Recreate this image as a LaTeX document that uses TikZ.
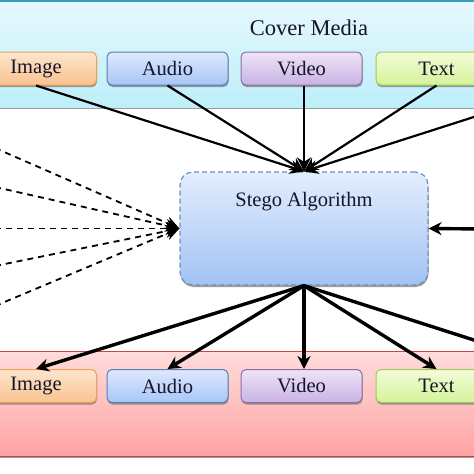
\documentclass[tikz,border=0pt]{standalone}
\usepackage{fontspec}
\setmainfont{Liberation Serif}
\usetikzlibrary{arrows.meta,shadows}
\definecolor{imgT}{HTML}{FDE6CF}\definecolor{imgB}{HTML}{F9C28E}\definecolor{imgD}{HTML}{F0A055}
\definecolor{audT}{HTML}{DDE9FD}\definecolor{audB}{HTML}{A8C6F6}\definecolor{audD}{HTML}{5B7FB0}
\definecolor{vidT}{HTML}{EEE4F7}\definecolor{vidB}{HTML}{C9B3E3}\definecolor{vidD}{HTML}{8A70A8}
\definecolor{txtT}{HTML}{F3FCD9}\definecolor{txtB}{HTML}{D5F29A}\definecolor{txtD}{HTML}{A0CC55}
\definecolor{stegT}{HTML}{E3EDFD}\definecolor{stegB}{HTML}{A2C2F5}\definecolor{stegD}{HTML}{7090BB}
\definecolor{covT}{HTML}{E6F8FD}\definecolor{covB}{HTML}{BDEFF9}\definecolor{covD}{HTML}{3AA0B8}
\definecolor{bandT}{HTML}{FFDCDC}\definecolor{bandB}{HTML}{FFA3A3}\definecolor{bandD}{HTML}{CC4444}
\definecolor{ink}{HTML}{15152A}
\begin{document}
\begin{tikzpicture}[x=1pt,y=-1pt,
  shad/.style={drop shadow={shadow xshift=0.5pt,shadow yshift=-2pt,fill=black!55,opacity=0.7}},
  band/.style={shad,minimum width=520pt,inner sep=0pt,line width=1pt},
  mediabox/.style={shad,draw,rounded corners=5pt,minimum width=121pt,minimum height=33pt,line width=1pt,
    inner sep=0pt,font=\fontsize{20.5}{21}\selectfont,text=ink},
  imgbox/.style={mediabox,top color=imgT,bottom color=imgB,draw=imgD},
  audbox/.style={mediabox,top color=audT,bottom color=audB,draw=audD},
  vidbox/.style={mediabox,top color=vidT,bottom color=vidB,draw=vidD},
  txtbox/.style={mediabox,top color=txtT,bottom color=txtB,draw=txtD},
  inline/.style={line width=2.2pt,-{Stealth[length=14pt,width=14pt]}},
  outline/.style={line width=3.4pt,-{Stealth[length=13pt,width=13pt]}},
  dashline/.style={line width=1.8pt,dash pattern=on 6pt off 5pt,-{Stealth[length=14pt,width=13pt]}}
]
\useasboundingbox (0,0) rectangle (474,474);
\clip (0,0) rectangle (474,474);
\fill[white] (0,0) rectangle (474,474);
% bands
\node[band,top color=covT,bottom color=covB,minimum height=106pt] (coverband) at (237,54) {};
\draw[covD,line width=2.5pt] (coverband.north west) -- (coverband.north east);
\node[band,top color=bandT,bottom color=bandB,draw=bandD,minimum height=105pt] (stegoband) at (237,403.5) {};
\node[font=\fontsize{22.5}{23}\selectfont,text=ink] (covertitle) at (309,28) {Cover Media};
% cover boxes
\node[imgbox] (img1) at (36,68.5) {Image};
\node[audbox] (aud1) at (167.5,68.5) {Audio};
\node[vidbox] (vid1) at (301.5,68.5) {Video};
\node[txtbox] (txt1) at (436.5,68.5) {Text};
% stego boxes
\node[imgbox] (img2) at (36,386) {Image};
\node[audbox] (aud2) at (167.5,386) {Audio};
\node[vidbox] (vid2) at (301.5,386) {Video};
\node[txtbox] (txt2) at (436.5,386) {Text};
% algorithm
\node[shad,draw=stegD,dashed,dash pattern=on 5pt off 3pt,line width=1.2pt,rounded corners=13pt,
  top color=stegT,bottom color=stegB,minimum width=248pt,minimum height=113pt,inner sep=0pt,
  label={[anchor=north,yshift=-17pt,font=\fontsize{20.5}{21}\selectfont,text=ink]north:Stego Algorithm}]
  (stego) at (304,228.5) {};
% free ends
\coordinate (rin) at (530,99);
\coordinate (rout) at (530,358);
\coordinate (rside) at (484,229);
\coordinate (l1) at (-5,148);
\coordinate (l2) at (-5,187);
\coordinate (l3) at (-5,228.5);
\coordinate (l4) at (-5,266);
\coordinate (l5) at (-5,306);
% inputs
\draw[inline] (img1.south) -- (stego.north);
\draw[inline] (aud1.south) -- (stego.north);
\draw[inline] (vid1.south -| stego.north) -- (stego.north);
\draw[inline] (txt1.south) -- (stego.north);
\draw[inline] (rin) -- (stego.north);
% outputs
\draw[outline] (stego.south) -- (img2.north);
\draw[outline] (stego.south) -- (aud2.north);
\draw[outline] (stego.south) -- (vid2.north -| stego.south);
\draw[outline] (stego.south) -- (txt2.north);
\draw[line width=3.4pt] (stego.south) -- (rout);
\draw[outline] (rside) -- (stego.east);
% dashed
\foreach \c in {l1,l2,l3,l4,l5}{\draw[dashline] (\c) -- (stego.west);}
\end{tikzpicture}
\end{document}
